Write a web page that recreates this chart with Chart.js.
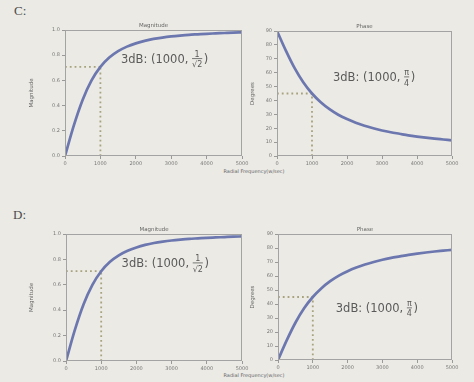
<!DOCTYPE html>
<html>
<head>
<meta charset="utf-8">
<script src="https://cdn.jsdelivr.net/npm/chart.js@4"></script>
<style>
  html, body { margin:0; padding:0; }
  body { width:474px; height:382px; background:#ebeae5; position:relative; overflow:hidden; font-family:"DejaVu Sans", sans-serif; }
  canvas { position:absolute; }
  .lbl { position:absolute; font-family:"Liberation Serif", serif; font-size:13px; color:#4a4a4a; }
  .xl { position:absolute; font-size:5px; color:#666; white-space:nowrap; transform:translateX(-50%); }
</style>
</head>
<body>
<div class="lbl" style="left:14px;top:3px;">C:</div>
<div class="lbl" style="left:13px;top:207px;">D:</div>
<div class="xl" style="left:254px;top:168px;">Radial Frequency(w/sec)</div>
<div class="xl" style="left:254px;top:372px;">Radial Frequency(w/sec)</div>
<canvas id="cMag" width="227" height="150" style="left:25px;top:20px;"></canvas>
<canvas id="cPh" width="225" height="149" style="left:237px;top:21px;"></canvas>
<canvas id="dMag" width="226" height="151" style="left:26px;top:224px;"></canvas>
<canvas id="dPh" width="224" height="150" style="left:238px;top:224px;"></canvas>
<script>
// ---- data ----
const freq = [0,250,500,750,1000,1250,1500,1750,2000,2250,2500,2750,3000,3250,3500,3750,4000,4250,4500,4750,5000];
const magnitude = [0,0.243,0.447,0.600,0.707,0.781,0.832,0.868,0.894,0.914,0.929,0.940,0.949,0.956,0.962,0.966,0.970,0.973,0.976,0.979,0.981];
const phaseC = [90,76.0,63.4,53.1,45.0,38.7,33.7,29.7,26.6,24.0,21.8,20.0,18.4,17.1,16.0,14.9,14.0,13.2,12.5,11.9,11.3];
const phaseD = [0,14.0,26.6,36.9,45.0,51.3,56.3,60.3,63.4,66.0,68.2,70.0,71.6,72.9,74.0,75.1,76.0,76.8,77.5,78.1,78.7];
const cutoffHX = [0,1000];
const cutoffVX = [1000,1000];
const magCutoffH = [0.707,0.707];
const magCutoffV = [0,0.707];
const phaseCutoffH = [45,45];
const phaseCutoffV = [0,45];
const xTicks = [0,1000,2000,3000,4000,5000];
const magTicks = [0,0.2,0.4,0.6,0.8,1.0];
const phaseTicks = [0,10,20,30,40,50,60,70,80,90];

const pts = (xs, ys) => xs.map((x,i)=>({x:x, y:ys[i]}));

const decoPlugin = {
  id:'deco',
  afterDraw(chart, args, o) {
    const ctx = chart.ctx, a = chart.chartArea;
    ctx.save();
    // frame
    ctx.strokeStyle = '#a3a3a3'; ctx.lineWidth = 1;
    ctx.strokeRect(Math.round(a.left)+0.5, Math.round(a.top)+0.5, Math.round(a.right-a.left)-1, Math.round(a.bottom-a.top)-1);
    // title
    ctx.fillStyle = '#666'; ctx.font = '5.5px "DejaVu Sans"';
    ctx.textAlign = 'center'; ctx.textBaseline = 'bottom';
    ctx.fillText(o.title, (a.left+a.right)/2, a.top-2);
    // y label
    ctx.save();
    ctx.translate(a.left - o.ylabOff, (a.top+a.bottom)/2);
    ctx.rotate(-Math.PI/2);
    ctx.textBaseline = 'middle';
    ctx.fillText(o.ylabel, 0, 0);
    ctx.restore();
    // annotation
    const xs = chart.scales.x, ys = chart.scales.y;
    let x = xs.getPixelForValue(o.ann.x), y = ys.getPixelForValue(o.ann.y);
    ctx.fillStyle = '#5a5a5a'; ctx.textAlign = 'left'; ctx.textBaseline = 'alphabetic';
    ctx.font = '11.5px "DejaVu Sans"';
    const main = '3dB: (1000, ';
    ctx.fillText(main, x, y);
    x += ctx.measureText(main).width - 1;
    ctx.font = '8px "DejaVu Sans"';
    const fw = Math.max(ctx.measureText(o.ann.num).width, ctx.measureText(o.ann.den).width) + 2;
    ctx.textAlign = 'center';
    ctx.fillText(o.ann.num, x + fw/2, y - 6);
    ctx.fillText(o.ann.den, x + fw/2, y + 4.5);
    ctx.fillRect(x + 1, y - 4.5, fw - 2, 0.8);
    ctx.textAlign = 'left';
    ctx.font = '11.5px "DejaVu Sans"';
    ctx.fillText(')', x + fw + 0.5, y);
    ctx.restore();
  }
};

function makeChart(id, series, ticksY, yMax, hY, vY, deco) {
  const lineCol = '#6b77ae', dotCol = '#a8a37f';
  new Chart(document.getElementById(id), {
    type:'line',
    data:{ datasets:[
      { data:pts(freq, series), borderColor:lineCol, borderWidth:2.7, pointRadius:0, cubicInterpolationMode:'monotone', fill:false, order:1 },
      { data:pts(cutoffHX, hY), borderColor:dotCol, borderWidth:1.8, borderDash:[1.8,3], pointRadius:0, fill:false, order:2 },
      { data:pts(cutoffVX, vY), borderColor:dotCol, borderWidth:1.8, borderDash:[1.8,3], pointRadius:0, fill:false, order:2 }
    ]},
    options:{
      responsive:false, animation:false, devicePixelRatio:1,
      layout:{ padding:{ top:10, right:10, left:0, bottom:0 } },
      plugins:{ legend:{display:false}, tooltip:{enabled:false}, deco:deco },
      scales:{
        x:{ type:'linear', min:0, max:5000,
            afterBuildTicks:(s)=>{ s.ticks = xTicks.map(v=>({value:v})); },
            afterFit:(s)=>{ s.height = 14; },
            grid:{ drawOnChartArea:false, drawTicks:true, tickLength:3, color:'#999' },
            border:{ display:false },
            ticks:{ color:'#777', font:{size:5, family:'DejaVu Sans'}, padding:2, maxRotation:0, callback:(v)=>String(v) } },
        y:{ type:'linear', min:0, max:yMax,
            afterBuildTicks:(s)=>{ s.ticks = ticksY.map(v=>({value:v})); },
            afterFit:(s)=>{ s.width = 40; },
            grid:{ drawOnChartArea:false, drawTicks:true, tickLength:3, color:'#999' },
            border:{ display:false },
            ticks:{ color:'#777', font:{size:5, family:'DejaVu Sans'}, padding:2,
                    callback:(v)=> yMax === 1 ? Number(v).toFixed(1) : String(v) } }
      }
    },
    plugins:[decoPlugin]
  });
}

makeChart('cMag', magnitude, magTicks, 1, magCutoffH, magCutoffV,
  { title:'Magnitude', ylabel:'Magnitude', ylabOff:33, ann:{x:1580, y:0.74, num:'1', den:'√2'} });
makeChart('cPh', phaseC, phaseTicks, 90, phaseCutoffH, phaseCutoffV,
  { title:'Phase', ylabel:'Degrees', ylabOff:24, ann:{x:1600, y:54, num:'π', den:'4'} });
makeChart('dMag', magnitude, magTicks, 1, magCutoffH, magCutoffV,
  { title:'Magnitude', ylabel:'Magnitude', ylabOff:34, ann:{x:1580, y:0.74, num:'1', den:'√2'} });
makeChart('dPh', phaseD, phaseTicks, 90, phaseCutoffH, phaseCutoffV,
  { title:'Phase', ylabel:'Degrees', ylabOff:25, ann:{x:1660, y:34.3, num:'π', den:'4'} });
</script>
</body>
</html>
